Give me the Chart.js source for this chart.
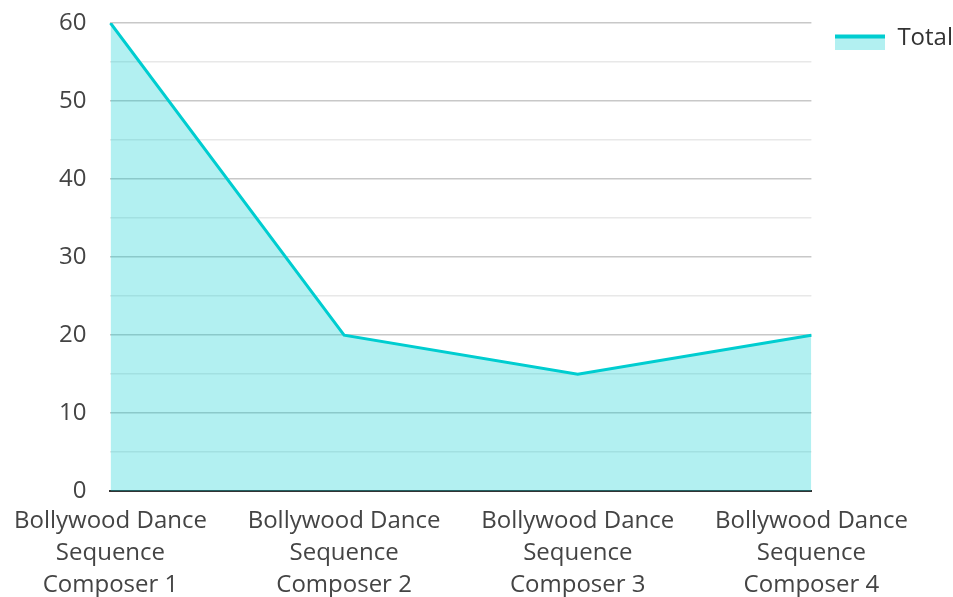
<!DOCTYPE html>
<html>
<head>
<meta charset="utf-8">
<script src="https://cdn.jsdelivr.net/npm/chart.js@4/dist/chart.umd.min.js"></script>
<style>
  html,body{margin:0;padding:0;background:#fff;}
  #wrap{width:953px;height:597px;}
</style>
</head>
<body>
<div id="wrap"><canvas id="chart" width="953" height="597"></canvas></div>
<script>
const labels = [
  ['Bollywood Dance','Sequence','Composer 1'],
  ['Bollywood Dance','Sequence','Composer 2'],
  ['Bollywood Dance','Sequence','Composer 3'],
  ['Bollywood Dance','Sequence','Composer 4']
];
const totals = [60, 20, 15, 20];
const seriesName = 'Total';

const lineColor = '#00CDD0';
const fillColor = 'rgba(0,205,208,0.3)';

// legend swatch: filled box with a thick line on top, sitting a bit low
function swatch(){
  const c = document.createElement('canvas');
  c.width = 50; c.height = 23;
  const g = c.getContext('2d');
  g.fillStyle = fillColor; g.fillRect(0,8,50,15);
  g.fillStyle = lineColor; g.fillRect(0,8,50,4);
  return c;
}

// nudge the legend up and to the right
const legendShift = {
  id:'legendShift',
  afterLayout(chart){
    const l = chart.legend; if(!l) return;
    l.left += 10; l.right += 10;
    l.top -= 11; l.bottom -= 11;
    (l.legendHitBoxes||[]).forEach(b=>{ b.left += 10; b.top -= 11; });
  }
};

Chart.defaults.font.family = '"Open Sans", sans-serif';
Chart.defaults.font.size = 24;
Chart.defaults.font.lineHeight = 1.33;
Chart.defaults.color = '#444';

new Chart(document.getElementById('chart').getContext('2d'), {
  type:'line',
  data:{ labels, datasets:[{
    label: seriesName, data: totals,
    borderColor: lineColor, backgroundColor: fillColor, borderWidth: 3,
    fill: 'origin', tension: 0, pointRadius: 0, pointHoverRadius: 0
  }]},
  plugins:[legendShift],
  options:{
    responsive:false, animation:false,
    layout:{ padding:{ top:23, right:0, bottom:0, left:17 } },
    plugins:{
      tooltip:{ enabled:false },
      legend:{
        position:'right', align:'start',
        labels:{ usePointStyle:true, pointStyle: swatch(), pointStyleWidth:50, padding:14, boxWidth:50, boxHeight:15, color:'#333' }
      }
    },
    scales:{
      x:{
        offset:false,
        grid:{ display:false, drawTicks:false },
        border:{ display:true, color:'#333', width:2 },
        ticks:{ padding:14, maxRotation:0, autoSkip:false },
        afterFit: s => { s.height -= 18; }
      },
      y:{
        min:0, max:60,
        border:{ display:false },
        grid:{ drawTicks:false, lineWidth:1.5,
          color: ctx => (ctx.tick && ctx.tick.value % 10 === 0) ? '#c8c8c8' : '#e8e8e8' },
        ticks:{ stepSize:5, padding:24,
          callback: v => v % 10 === 0 ? v : '' },
        afterFit: s => { s.paddingTop = 0; s.paddingBottom = 0; }
      }
    }
  }
});
</script>
</body>
</html>
